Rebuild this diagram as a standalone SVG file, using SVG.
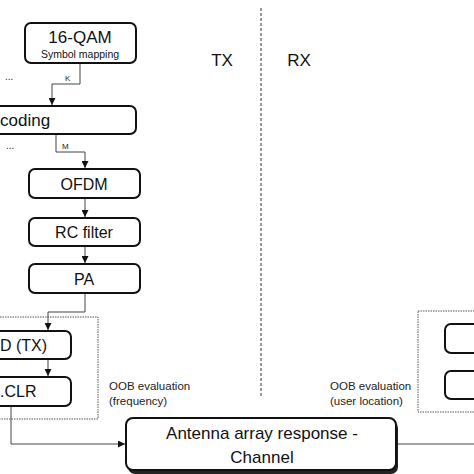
<svg xmlns="http://www.w3.org/2000/svg" width="474" height="474" viewBox="0 0 474 474">
<defs>
<marker id="arr" viewBox="0 0 10 10" refX="10" refY="5" markerWidth="7" markerHeight="7" orient="auto" markerUnits="userSpaceOnUse">
<path d="M0,0 L10,5 L0,10 z" fill="#111"/>
</marker>
<style>
.box{fill:#fff;stroke:#111;stroke-width:2}
.t{font-family:"Liberation Sans",Arial,sans-serif;fill:#111;text-anchor:middle}
.lg{font-size:16px}
.sm{font-size:10.5px}
.lbl{font-family:"Liberation Sans",Arial,sans-serif;fill:#222;font-size:11.5px}
.c{fill:none;stroke:#444;stroke-width:1}
.dot{fill:none;stroke:#555;stroke-width:1;stroke-dasharray:1.5 1}
</style>
</defs>
<rect width="474" height="474" fill="#fff"/>
<line x1="261" y1="8" x2="261" y2="398" stroke="#777" stroke-width="1.5" stroke-dasharray="3 2"/>
<text class="t lg" x="222" y="66" style="font-size:17px">TX</text>
<text class="t lg" x="299" y="66" style="font-size:17px">RX</text>
<rect class="dot" x="-5" y="317" width="103" height="102"/>
<rect class="dot" x="418" y="311" width="70" height="101"/>
<g id="connectors">
<path class="c" d="M80,63 V84 H52 V105" marker-end="url(#arr)"/>
<path class="c" d="M56,134 V152 H85 V168" marker-end="url(#arr)"/>
<path class="c" d="M85,198 V217" marker-end="url(#arr)"/>
<path class="c" d="M85,246 V263" marker-end="url(#arr)"/>
<path class="c" d="M85,293 V312 H48 V330" marker-end="url(#arr)"/>
<path class="c" d="M48,359 V376" marker-end="url(#arr)"/>
<path class="c" d="M11,406 V444 H125" marker-end="url(#arr)"/>
<path class="c" d="M396,444 H474"/>
<text class="lbl" x="65" y="81" style="font-size:8px">K</text>
<text class="lbl" x="62" y="149" style="font-size:8px">M</text>
<text class="lbl" x="5" y="80" style="font-size:10px">...</text>
<text class="lbl" x="6" y="149" style="font-size:10px">...</text>
</g>
<g id="qam"><rect class="box" x="25" y="23" width="111" height="40" rx="6"/>
<text class="t lg" x="80" y="43" style="font-size:17px">16-QAM</text>
<text class="t sm" x="80" y="58">Symbol mapping</text></g>
<g id="coding"><rect class="box" x="-10" y="106" width="146" height="28" rx="6"/>
<text class="t lg" x="0" y="126" style="font-size:17px;text-anchor:start">coding</text></g>
<g id="ofdm"><rect class="box" x="29" y="169" width="111" height="29" rx="6"/>
<text class="t lg" x="84" y="190">OFDM</text></g>
<g id="rc"><rect class="box" x="29" y="218" width="111" height="28" rx="6"/>
<text class="t lg" x="84" y="238">RC filter</text></g>
<g id="pa"><rect class="box" x="29" y="264" width="111" height="29" rx="6"/>
<text class="t lg" x="84" y="285">PA</text></g>
<g id="dtx"><rect class="box" x="-10" y="331" width="81" height="28" rx="6"/>
<text class="t lg" x="0" y="351" style="text-anchor:start">D (TX)</text></g>
<g id="aclr"><rect class="box" x="-10" y="377" width="81" height="29" rx="6"/>
<text class="t lg" x="0" y="397" style="text-anchor:start">.CLR</text></g>
<text class="lbl" x="109" y="390">OOB evaluation</text>
<text class="lbl" x="109" y="405">(frequency)</text>
<text class="lbl" x="330" y="390">OOB evaluation</text>
<text class="lbl" x="330" y="405">(user location)</text>
<g id="rx1"><rect class="box" x="445" y="324" width="50" height="29" rx="6"/></g>
<g id="rx2"><rect class="box" x="445" y="371" width="50" height="28" rx="6"/></g>
<g id="antenna">
<rect x="128" y="421" width="270" height="53" rx="7" fill="#222"/>
<rect class="box" x="126" y="418" width="270" height="52" rx="7"/>
<text class="t lg" x="262" y="439" style="font-size:17px">Antenna array response -</text>
<text class="t lg" x="262" y="463" style="font-size:17px">Channel</text></g>
</svg>
